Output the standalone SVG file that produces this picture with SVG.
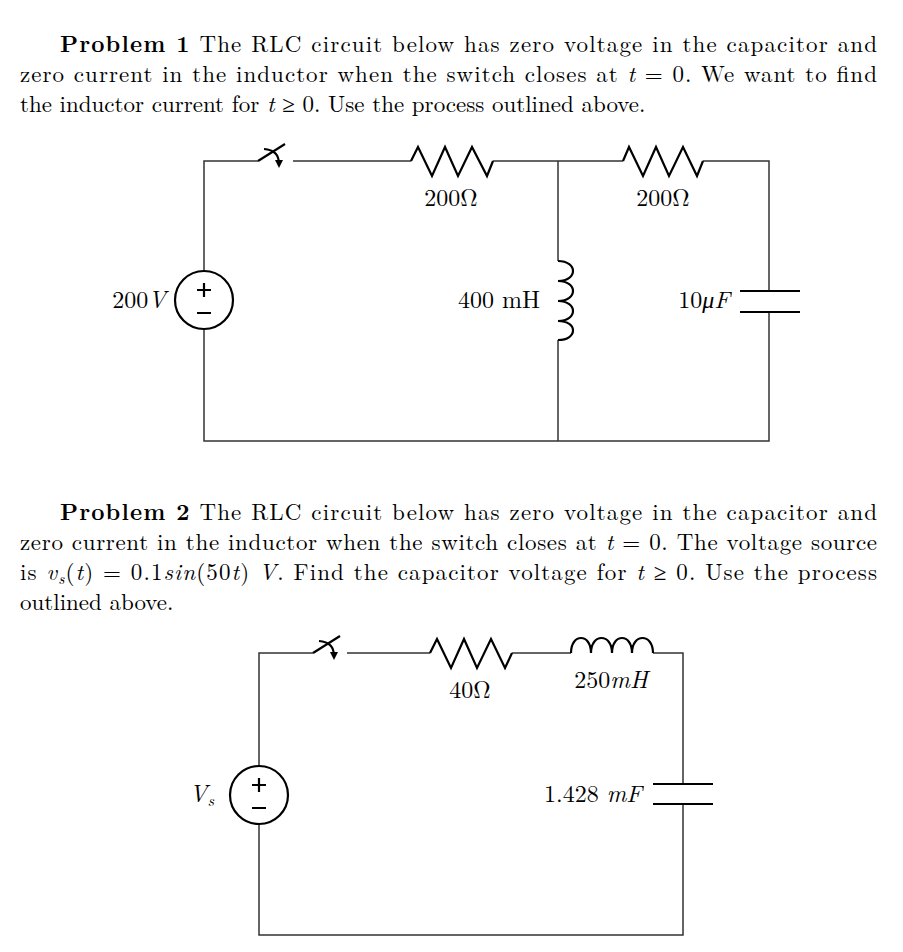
<svg xmlns="http://www.w3.org/2000/svg" width="903" height="952" viewBox="0 0 903 952">
<style>
.t{font-family:"Latin Modern Roman","Liberation Serif",serif;font-size:23px;fill:#000}
.l{font-family:"Latin Modern Roman","Liberation Serif",serif;font-size:24px;fill:#000}
.w{fill:none;stroke:#333;stroke-width:1.5}
.c{fill:none;stroke:#000;stroke-width:2.2}
</style>
<defs>
<marker id="ah" markerWidth="8" markerHeight="8" refX="4" refY="4" orient="auto" markerUnits="userSpaceOnUse"><path d="M0,0 L8,4 L0,8 z" fill="#000"/></marker>
</defs>
<rect width="903" height="952" fill="#fff"/>
<g id="text1" class="t">
<text x="60" y="52" textLength="817" lengthAdjust="spacing"><tspan font-weight="bold">Problem 1</tspan> The RLC circuit below has zero voltage in the capacitor and</text>
<text x="20" y="82" textLength="857" lengthAdjust="spacing">zero current in the inductor when the switch closes at <tspan font-style="italic">t</tspan> = 0. We want to find</text>
<text x="20" y="112">the inductor current for <tspan font-style="italic">t</tspan> ≥ 0. Use the process outlined above.</text>
</g>
<g id="text2" class="t">
<text x="60" y="520" textLength="817" lengthAdjust="spacing"><tspan font-weight="bold">Problem 2</tspan> The RLC circuit below has zero voltage in the capacitor and</text>
<text x="20" y="550" textLength="857" lengthAdjust="spacing">zero current in the inductor when the switch closes at <tspan font-style="italic">t</tspan> = 0. The voltage source</text>
<text x="20" y="580" textLength="857" lengthAdjust="spacing">is <tspan font-style="italic">v</tspan><tspan font-style="italic" font-size="15" baseline-shift="-4">s</tspan>(<tspan font-style="italic">t</tspan>) = 0.1<tspan font-style="italic">sin</tspan>(50<tspan font-style="italic">t</tspan>) <tspan font-style="italic">V</tspan>. Find the capacitor voltage for <tspan font-style="italic">t</tspan> ≥ 0. Use the process</text>
<text x="20" y="610">outlined above.</text>
</g>
<g id="connectors">
<path class="w" d="M204,271 V161 H258 M293,161 H411 M493,161 H623 M703,161 H769 V291 M769,312 V441 H204 V329 M558,161 V261 M558,340 V441"/>
<path class="w" d="M259,766 V653 H313 M347,653 H430 M512,653 H571 M653,653 H683 V784 M683,804 V935 H259 V824"/>
</g>
<g id="switch1"><path class="c" d="M258,161 L285,144"/><path class="c" d="M264,149 Q279,150 279,164" marker-end="url(#ah)"/></g>
<g id="R1"><path class="c" d="M411,161 L418,147 L432,176 L445,147 L458,176 L472,147 L487,176 L493,161"/><text class="l" x="451" y="206" text-anchor="middle">200Ω</text></g>
<g id="R2"><path class="c" d="M623,161 L629,147 L643,176 L656,147 L669,176 L683,147 L697,176 L703,161"/><text class="l" x="663" y="206" text-anchor="middle">200Ω</text></g>
<g id="L1"><path class="c" d="M558,261 C578,261 578,281 558,281 C578,281 578,301 558,301 C578,301 578,321 558,321 C578,321 578,340 558,340"/><text class="l" x="540" y="308" text-anchor="end">400 mH</text></g>
<g id="C1"><path class="c" d="M740,291 H800 M740,312 H800"/><text class="l" x="730" y="308" text-anchor="end">10<tspan font-style="italic">μF</tspan></text></g>
<g id="V1"><circle class="c" cx="204" cy="300" r="29"/><path class="c" stroke-width="1.3" d="M197,290 H211 M204,283 V297 M197,313 H211"/><text class="l" x="166" y="308" text-anchor="end">200<tspan font-style="italic">V</tspan></text></g>
<g id="switch2"><path class="c" d="M313,653 L340,636"/><path class="c" d="M319,641 Q334,642 334,656" marker-end="url(#ah)"/></g>
<g id="R3"><path class="c" d="M430,653 L437,639 L451,668 L464,639 L477,668 L491,639 L505,668 L512,653"/><text class="l" x="470" y="698" text-anchor="middle">40Ω</text></g>
<g id="L2"><path class="c" d="M571,653 C571,633 591,633 591,653 C591,633 612,633 612,653 C612,633 632,633 632,653 C632,633 653,633 653,653"/><text class="l" x="611" y="688" text-anchor="middle">250<tspan font-style="italic">mH</tspan></text></g>
<g id="C2"><path class="c" d="M653,784 H713 M653,804 H713"/><text class="l" x="642" y="802" text-anchor="end">1.428 <tspan font-style="italic">mF</tspan></text></g>
<g id="V2"><circle class="c" cx="259" cy="795" r="29"/><path class="c" stroke-width="1.3" d="M252,785 H266 M259,778 V792 M252,808 H266"/><text class="l" x="214" y="802" text-anchor="end" font-style="italic">V<tspan font-size="16" baseline-shift="-4">s</tspan></text></g>
</svg>
